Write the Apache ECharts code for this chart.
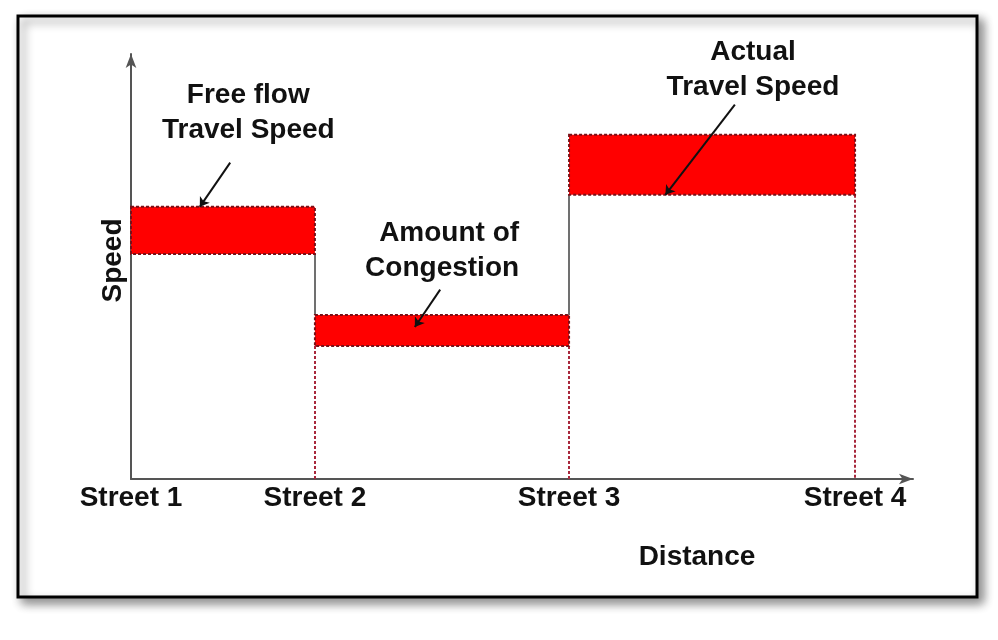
<!DOCTYPE html>
<html>
<head>
<meta charset="utf-8">
<script src="https://cdn.jsdelivr.net/npm/echarts@6/dist/echarts.min.js"></script>
<style>
  html, body { margin: 0; padding: 0; background: #fff; }
  #chart { width: 998px; height: 640px; }
</style>
</head>
<body>
<div id="chart"></div>
<script>
// street positions along the distance axis
var streetNames = ['Street 1', 'Street 2', 'Street 3', 'Street 4'];
var streetX = [0, 25.4, 60.5, 100];
// speed per segment (between consecutive streets)
var freeSpeed = [63.4, 38.2, 80.2];
var actualSpeed = [52.4, 31, 66.2];

// callout texts with anchor [x, y] and leader arrows
var calloutText = ['Free flow\nTravel Speed', 'Amount of\nCongestion', 'Actual\nTravel Speed'];
var calloutAt = [[16.2, 85.4], [53.6, 53.2], [85.9, 95.3]];
var calloutFrom = [[13.7, 73.7], [42.7, 44.1], [83.4, 87.2]];
var calloutTo = [[9.5, 63.4], [39.2, 35.4], [73.8, 66.2]];

var FONT = '"Liberation Sans", Arial, sans-serif';

var chart = echarts.init(document.getElementById('chart'));

var bands = [];
for (var i = 0; i < freeSpeed.length; i++) {
  bands.push([streetX[i], streetX[i + 1], actualSpeed[i], freeSpeed[i]]);
}

// solid step connectors and dashed drop lines
var connectors = [
  { coords: [[streetX[1], actualSpeed[0]], [streetX[1], freeSpeed[1]]] },
  { coords: [[streetX[2], freeSpeed[1]], [streetX[2], actualSpeed[2]]] }
];
var drops = [
  { coords: [[streetX[1], actualSpeed[1]], [streetX[1], 0]] },
  { coords: [[streetX[2], actualSpeed[1]], [streetX[2], 0]] },
  { coords: [[streetX[3], actualSpeed[2]], [streetX[3], 0]] }
];
var arrows = calloutFrom.map(function (p, i) {
  return { coords: [p, calloutTo[i]] };
});
var labels = calloutText.map(function (t, i) {
  return {
    value: calloutAt[i],
    label: { align: i === 1 ? 'right' : 'center' },
    text: t
  };
});

var option = {
  backgroundColor: '#fff',
  animation: false,
  graphic: [
    {
      type: 'rect',
      z: -10,
      shape: { x: 18, y: 16, width: 959, height: 581 },
      style: {
        fill: '#fff', stroke: '#000', lineWidth: 3,
        shadowBlur: 10, shadowOffsetX: 5, shadowOffsetY: 5,
        shadowColor: 'rgba(0,0,0,0.45)'
      }
    },
    {
      type: 'text',
      x: 697, y: 557,
      style: {
        text: 'Distance', fill: '#111',
        font: 'bold 28px ' + FONT,
        textAlign: 'center', textVerticalAlign: 'middle'
      }
    }
  ],
  grid: { left: 131, right: 85, top: 54, bottom: 161 },
  xAxis: {
    type: 'value',
    min: 0,
    max: 108,
    splitLine: { show: false },
    axisTick: { show: false },
    axisLine: {
      lineStyle: { color: '#555', width: 2 },
      symbol: ['none', 'arrow'],
      symbolSize: [8, 14]
    },
    axisLabel: {
      customValues: streetX,
      margin: 5,
      color: '#111',
      fontSize: 28,
      fontWeight: 'bold',
      fontFamily: FONT,
      formatter: function (v) {
        var idx = streetX.indexOf(v);
        return idx >= 0 ? streetNames[idx] : '';
      }
    }
  },
  yAxis: {
    type: 'value',
    min: 0,
    max: 99,
    name: 'Speed',
    nameLocation: 'middle',
    nameRotate: 90,
    nameGap: 4,
    nameTextStyle: { color: '#111', fontSize: 28, fontWeight: 'bold', fontFamily: FONT, padding: [0, 0, 0, 12] },
    splitLine: { show: false },
    axisTick: { show: false },
    axisLabel: { show: false },
    axisLine: {
      lineStyle: { color: '#555', width: 2 },
      symbol: ['none', 'arrow'],
      symbolSize: [8, 14]
    }
  },
  series: [
    {
      type: 'lines',
      coordinateSystem: 'cartesian2d',
      z: 1,
      lineStyle: { color: '#707070', width: 2, type: 'solid', opacity: 1 },
      data: connectors
    },
    {
      type: 'lines',
      coordinateSystem: 'cartesian2d',
      z: 1,
      lineStyle: { color: '#a8283c', width: 2, type: [3, 2], opacity: 1 },
      data: drops
    },
    {
      type: 'custom',
      z: 2,
      renderItem: function (params, api) {
        var p0 = api.coord([api.value(0), api.value(3)]);
        var p1 = api.coord([api.value(1), api.value(2)]);
        return {
          type: 'rect',
          shape: { x: p0[0], y: p0[1], width: p1[0] - p0[0], height: p1[1] - p0[1] },
          style: { fill: '#ff0000', stroke: '#7a1018', lineWidth: 2, lineDash: [3, 2] }
        };
      },
      data: bands
    },
    {
      type: 'lines',
      coordinateSystem: 'cartesian2d',
      z: 3,
      symbol: ['none', 'arrow'],
      symbolSize: 9,
      lineStyle: { color: '#111', width: 2, opacity: 1 },
      data: arrows
    },
    {
      type: 'scatter',
      z: 4,
      symbolSize: 0,
      silent: true,
      itemStyle: { opacity: 1 },
      label: {
        show: true,
        position: 'inside',
        verticalAlign: 'middle',
        color: '#111',
        fontSize: 28,
        fontWeight: 'bold',
        fontFamily: FONT,
        lineHeight: 35,
        formatter: function (p) { return p.data.text; }
      },
      data: labels
    }
  ]
};

chart.setOption(option);
window.addEventListener('resize', function () {
  chart.resize();
});
</script>
</body>
</html>
